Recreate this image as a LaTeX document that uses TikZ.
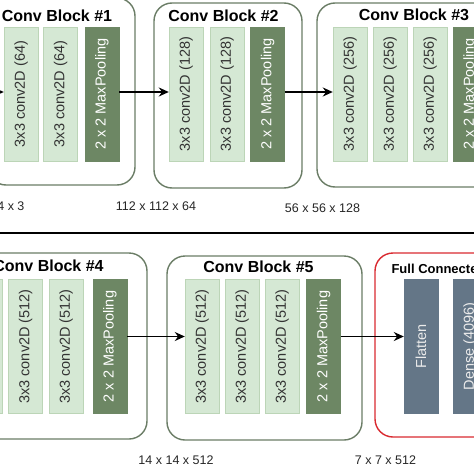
\documentclass[tikz,border=0pt]{standalone}
\usepackage{fontspec}
\setmainfont{Liberation Sans}
\usetikzlibrary{arrows.meta}
\definecolor{convfill}{HTML}{D5E8D4}
\definecolor{convline}{HTML}{BCD5B7}
\definecolor{poolfill}{HTML}{6D8764}
\definecolor{blockline}{HTML}{6B7D66}
\definecolor{densefill}{HTML}{647687}
\definecolor{fcline}{HTML}{D92A30}
\begin{document}
\begin{tikzpicture}[x=1pt,y=-1pt]
 	\useasboundingbox[fill=white] (0,0) rectangle (474,474);
 	
 	\tikzstyle{block}=[rectangle, draw=blockline, line width=1.4pt, rounded corners=18pt, inner sep=0pt]
 	\tikzstyle{fcblock}=[block, draw=fcline]
 	\tikzstyle{conv}=[rectangle, draw=convline, fill=convfill, rotate=90, inner sep=0pt, minimum width=134pt, minimum height=34pt, font=\fontsize{14.5pt}{17pt}\selectfont, text=black!80]
 	\tikzstyle{pool}=[conv, draw=poolfill, fill=poolfill, text=white]
 	\tikzstyle{dense}=[conv, draw=densefill, fill=densefill, text=white!92!black]
 	\tikzstyle{title}=[font=\bfseries\fontsize{16pt}{19pt}\selectfont]
 	\tikzstyle{dims}=[font=\fontsize{12.5pt}{15pt}\selectfont, text=black!85]
 	\tikzstyle{arc}=[-{Stealth[length=10pt,width=9pt]}, line width=1.6pt, black]
 	
 	% blocks, first row
 	\node[block, minimum width=147pt, minimum height=187pt] (b1) at (61.5,91.5) {};
 	\node[block, minimum width=148pt, minimum height=185pt] (b2) at (228,95.5) {};
 	\node[block, minimum width=186pt, minimum height=184pt] (b3) at (410,95) {};
 	\node[title] (t1) at (57,16) {Conv Block \#1};
 	\node[title] (t2) at (223.5,16) {Conv Block \#2};
 	\node[title] (t3) at (414,15) {Conv Block \#3};
 	
 	% layers (rotated: north is the left side, south the right side)
 	\node[conv] (c11) at (21,94) {3x3 conv2D (64)};
 	\node[conv] (c12) at (60.5,94) {3x3 conv2D (64)};
 	\node[pool] (p1) at (102,94) {2 x 2 MaxPooling};
 	\node[conv] (c21) at (186,94) {3x3 conv2D (128)};
 	\node[conv] (c22) at (227,94) {3x3 conv2D (128)};
 	\node[pool] (p2) at (267.5,94) {2 x 2 MaxPooling};
 	\node[conv] (c31) at (350,94) {3x3 conv2D (256)};
 	\node[conv] (c32) at (390,94) {3x3 conv2D (256)};
 	\node[conv] (c33) at (430,94) {3x3 conv2D (256)};
 	\node[pool] (p3) at (470,94) {2 x 2 MaxPooling};
 	
 	\coordinate (in) at (-20,92);
 	\draw[arc] (in) -- ([yshift=2pt]c11.north);
 	\draw[arc] ([yshift=2pt]p1.south) -- ([yshift=2pt]c21.north);
 	\draw[arc] ([yshift=2pt]p2.south) -- ([yshift=2pt]c31.north);
 	
 	\node[dims] (d1) [anchor=east] at (28,206) {224 x 224 x 3};
 	\node[dims] (d2) at (156,206) {112 x 112 x 64};
 	\node[dims] (d3) at (322.5,208) {56 x 56 x 128};
 	
 	% separator
 	\coordinate (sepl) at (-5,233);
 	\coordinate (sepr) at (480,233);
 	\draw[line width=2.4pt] (sepl) -- (sepr);
 	
 	% blocks, second row
 	\node[block, minimum width=194pt, minimum height=186pt] (b4) at (50,346) {};
 	\node[block, minimum width=195pt, minimum height=184pt] (b5) at (264.5,348) {};
 	\node[fcblock, minimum width=185pt, minimum height=184pt] (fc) at (467.5,345) {};
 	\node[title] (t4) at (48.5,266) {Conv Block \#4};
 	\node[title] (t5) at (258.5,267) {Conv Block \#5};
 	\node[title, font=\bfseries\fontsize{13pt}{15pt}\selectfont, anchor=west] (t6) at (388,269) {Full Connected};
 	
 	\node[conv] (c41) at (-14.5,346.5) {3x3 conv2D (512)};
 	\node[conv] (c42) at (25.5,346.5) {3x3 conv2D (512)};
 	\node[conv] (c43) at (66,346.5) {3x3 conv2D (512)};
 	\node[pool] (p4) at (110,346.5) {2 x 2 MaxPooling};
 	\node[conv] (c51) at (202,346.5) {3x3 conv2D (512)};
 	\node[conv] (c52) at (242,346.5) {3x3 conv2D (512)};
 	\node[conv] (c53) at (282,346.5) {3x3 conv2D (512)};
 	\node[pool] (p5) at (323.5,346.5) {2 x 2 MaxPooling};
 	\node[dense] (fl) at (421,346.5) {Flatten};
 	\node[dense] (de1) at (470,346.5) {Dense (4096)};
 	
 	\draw[arc] ([yshift=10pt]p4.south) -- ([yshift=10pt]c51.north);
 	\draw[arc] ([yshift=10pt]p5.south) -- ([yshift=10pt]fl.north);
 	
 	\node[dims] (d4) [anchor=east] at (4,460) {28 x 28 x 256};
 	\node[dims] (d5) at (176,460) {14 x 14 x 512};
 	\node[dims] (d6) at (385.5,460) {7 x 7 x 512};
 	
\end{tikzpicture}
\end{document}
